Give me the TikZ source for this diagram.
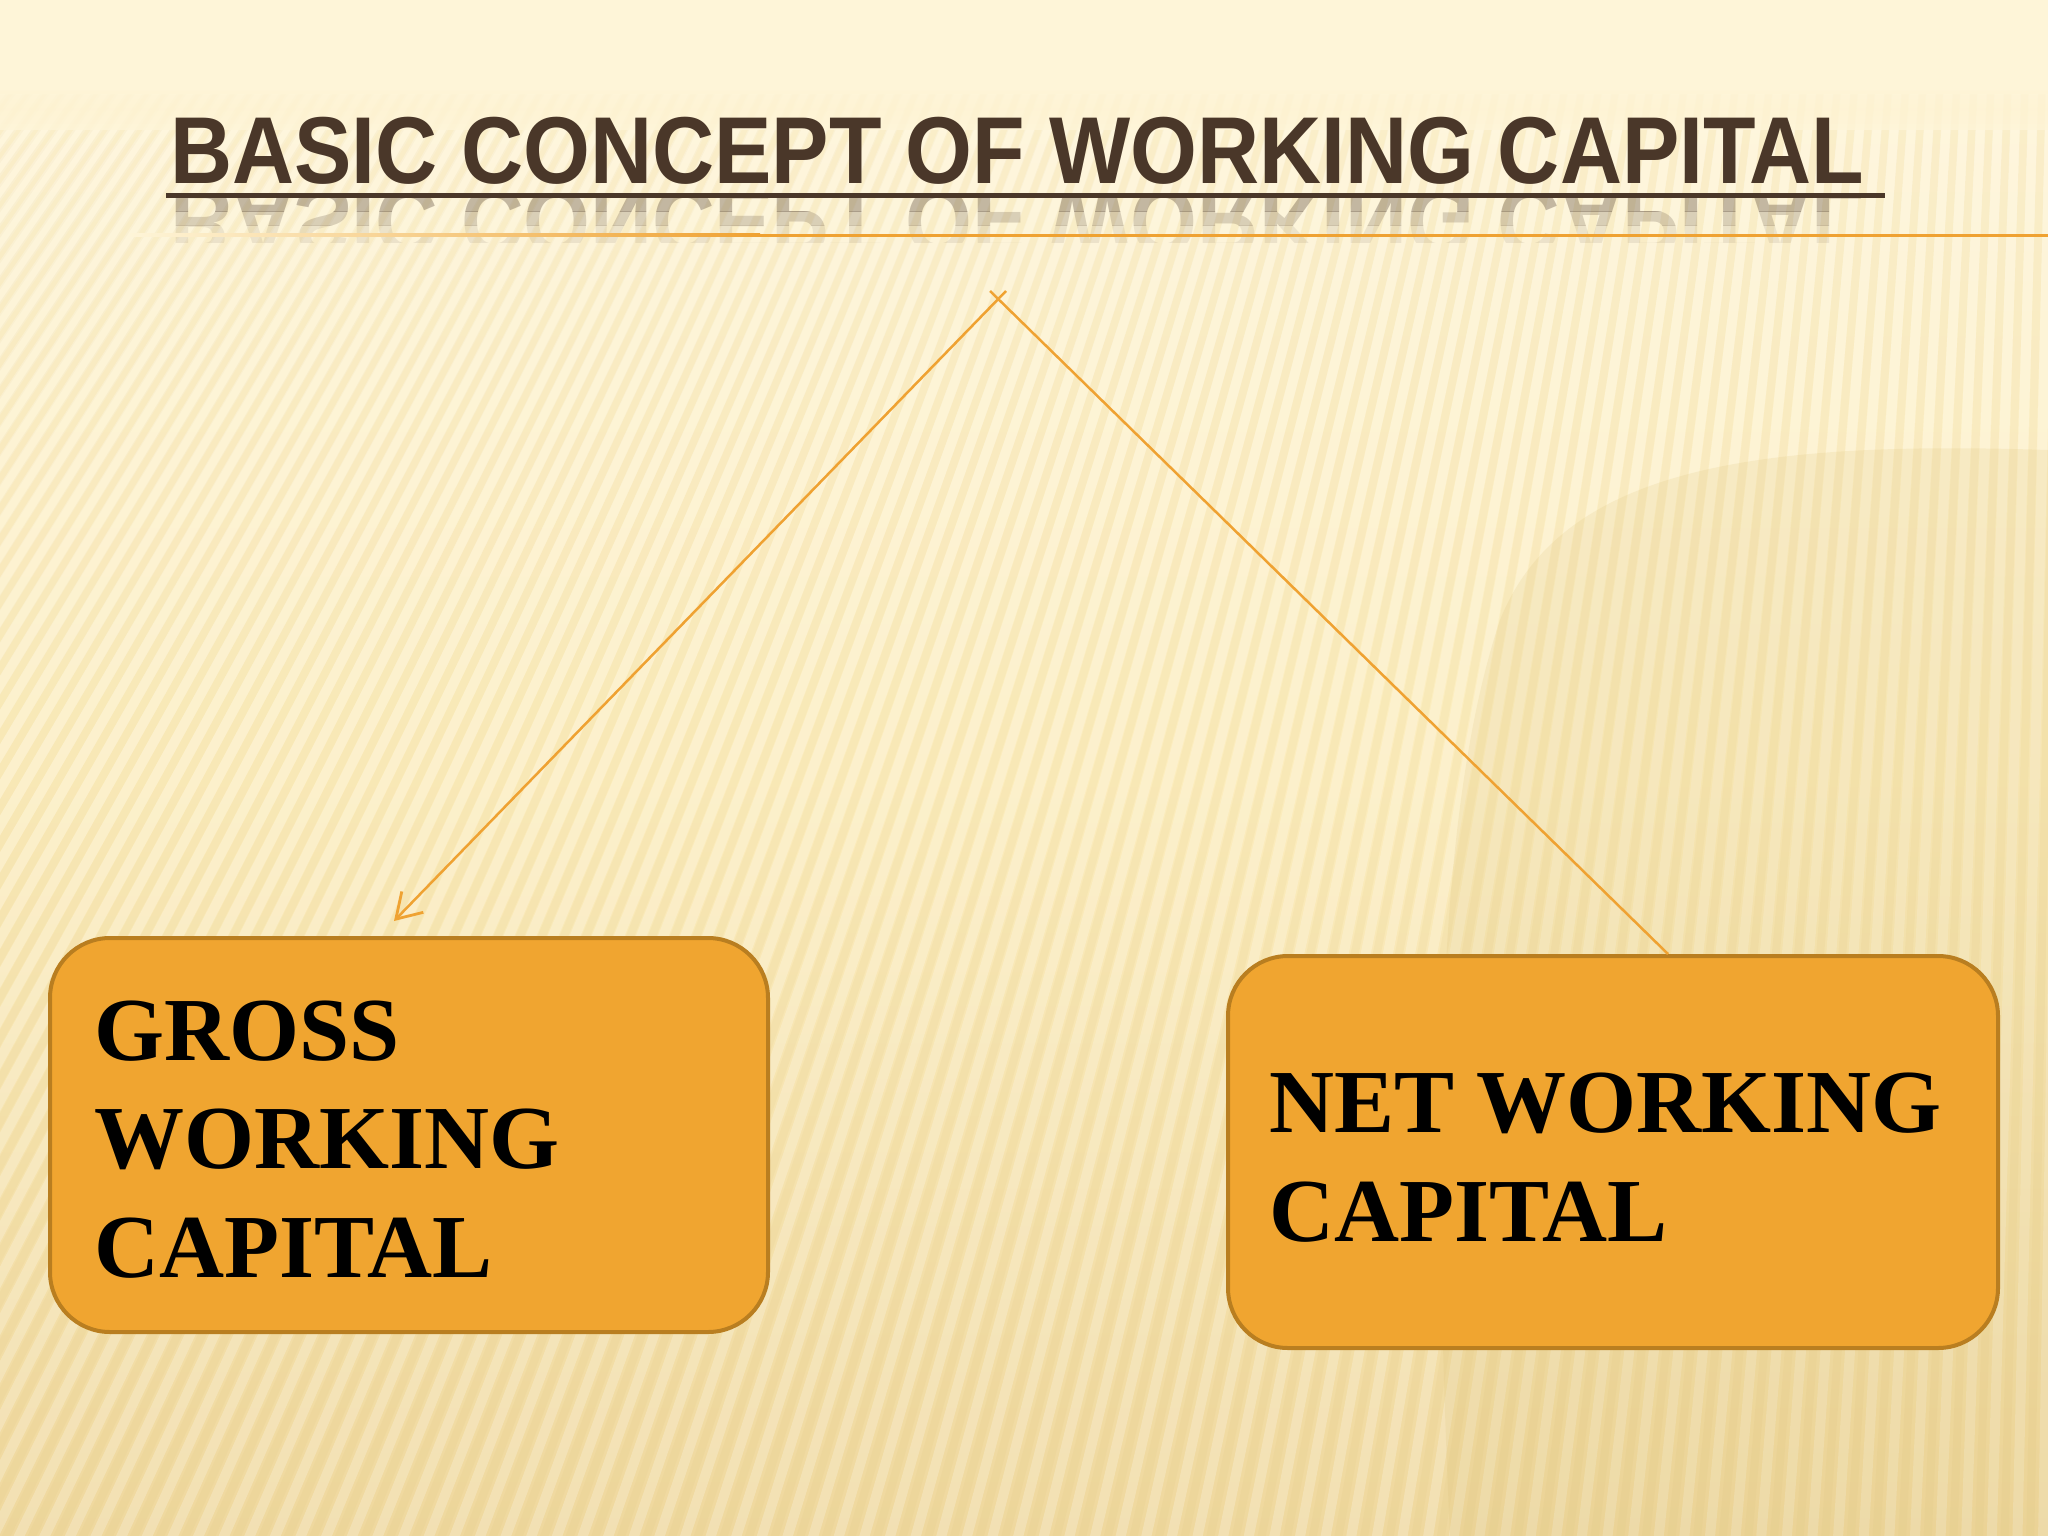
\documentclass[tikz,border=0pt]{standalone}
\usepackage{fontspec}
\usetikzlibrary{arrows.meta}
\newfontfamily\titlefont{Liberation Sans}
\newfontfamily\boxfont{Liberation Serif}
\definecolor{bgtop}{HTML}{FEF5D8}
\definecolor{bgmid}{HTML}{FCEDBE}
\definecolor{bgbot}{HTML}{EFD89E}
\definecolor{titlebrown}{HTML}{4A3729}
\definecolor{lineorange}{HTML}{EFA232}
\definecolor{boxfill}{HTML}{F0A530}
\definecolor{boxborder}{HTML}{B97E20}
\definecolor{stripedark}{HTML}{D9BD70}
\tikzset{
  conceptbox/.style={draw=boxborder, line width=4pt, fill=boxfill, rounded corners=60pt, inner sep=0pt},
  boxtext/.style={anchor=base west, inner sep=0pt, align=left, text=black,
    font=\boxfont\bfseries\fontsize{90}{108.5}\selectfont},
  connector/.style={draw=lineorange, line width=2.5pt},
}
\begin{document}
\begin{tikzpicture}[x=1pt,y=-1pt]
\useasboundingbox (0,0) rectangle (2048,1536);
% background
\shade[top color=bgtop, bottom color=bgbot, middle color=bgmid] (0,0) rectangle (2048,1536);
\begin{scope}
\clip (0,95) rectangle (2048,1536);
\coordinate (vp) at (2116,-2784);
\foreach \i in {0,...,170}{
  \pgfmathsetmacro\xb{\i*26-2300}
  \draw[white, opacity=0.22, line width=10pt] (vp) -- (\xb,1600);
  \draw[stripedark, opacity=0.10, line width=8pt] (vp) -- (\xb+13,1600);
}
\fill[stripedark, opacity=0.16] (2048,450) .. controls (1750,440) and (1560,470) .. (1500,620)
   .. controls (1440,800) and (1430,1100) .. (1450,1536) -- (2048,1536) -- cycle;
\end{scope}
\fill[bgtop] (0,0) rectangle (2048,90);
\shade[top color=bgtop, bottom color=bgtop, middle color=bgtop!80!bgmid, opacity=0.8] (0,88) rectangle (2048,130);
% title
\node[anchor=base west, inner sep=0pt, text=titlebrown, font=\titlefont\bfseries\fontsize{95}{100}\selectfont]
  (title) at (170,183) {\scalebox{0.905}[1]{BASIC CONCEPT OF WORKING CAPITAL}};
\foreach \ya/\yb/\op in {197/211/0.32, 211/225/0.20, 225/242/0.09}{
  \begin{scope}
  \clip (150,\ya) rectangle (1900,\yb);
  \node[anchor=base west, inner sep=0pt, text=titlebrown, opacity=\op, font=\titlefont\bfseries\fontsize{95}{100}\selectfont]
    at (170,188) {\scalebox{0.905}[-1]{BASIC CONCEPT OF WORKING CAPITAL}};
  \end{scope}
}
\coordinate (ulA) at (166,195);
\coordinate (ulB) at (1885,195);
\draw[titlebrown, line width=5pt] (ulA) -- (ulB);
% orange rule
\coordinate (ruleM) at (760,235);
\coordinate (ruleB) at (2048,235);
\shade[left color=bgtop, right color=lineorange] (130,233.5) rectangle (760,236.5);
\draw[lineorange, line width=3pt] (ruleM) -- (ruleB);
% boxes
\node[conceptbox, minimum width=718pt, minimum height=394pt] (gross) at (409,1135) {};
\node[conceptbox, minimum width=770pt, minimum height=392pt] (net) at (1613,1152) {};
\node[boxtext] (grosstext) at (94,1277) {GROSS\\WORKING\\CAPITAL};
\node[boxtext] (nettext) at (1269,1241) {NET WORKING\\CAPITAL};
% connectors
\coordinate (leftstart) at (1006,291);
\coordinate (rightstart) at (990,291);
\coordinate (arrowend) at (394,921);
\coordinate (netjoin) at (net.north -| 1668,0);
\draw[connector, -{Straight Barb[length=24pt,width=30pt,line width=2.8pt]}] (leftstart) -- (arrowend);
\draw[connector] (rightstart) -- (netjoin);
\end{tikzpicture}
\end{document}
